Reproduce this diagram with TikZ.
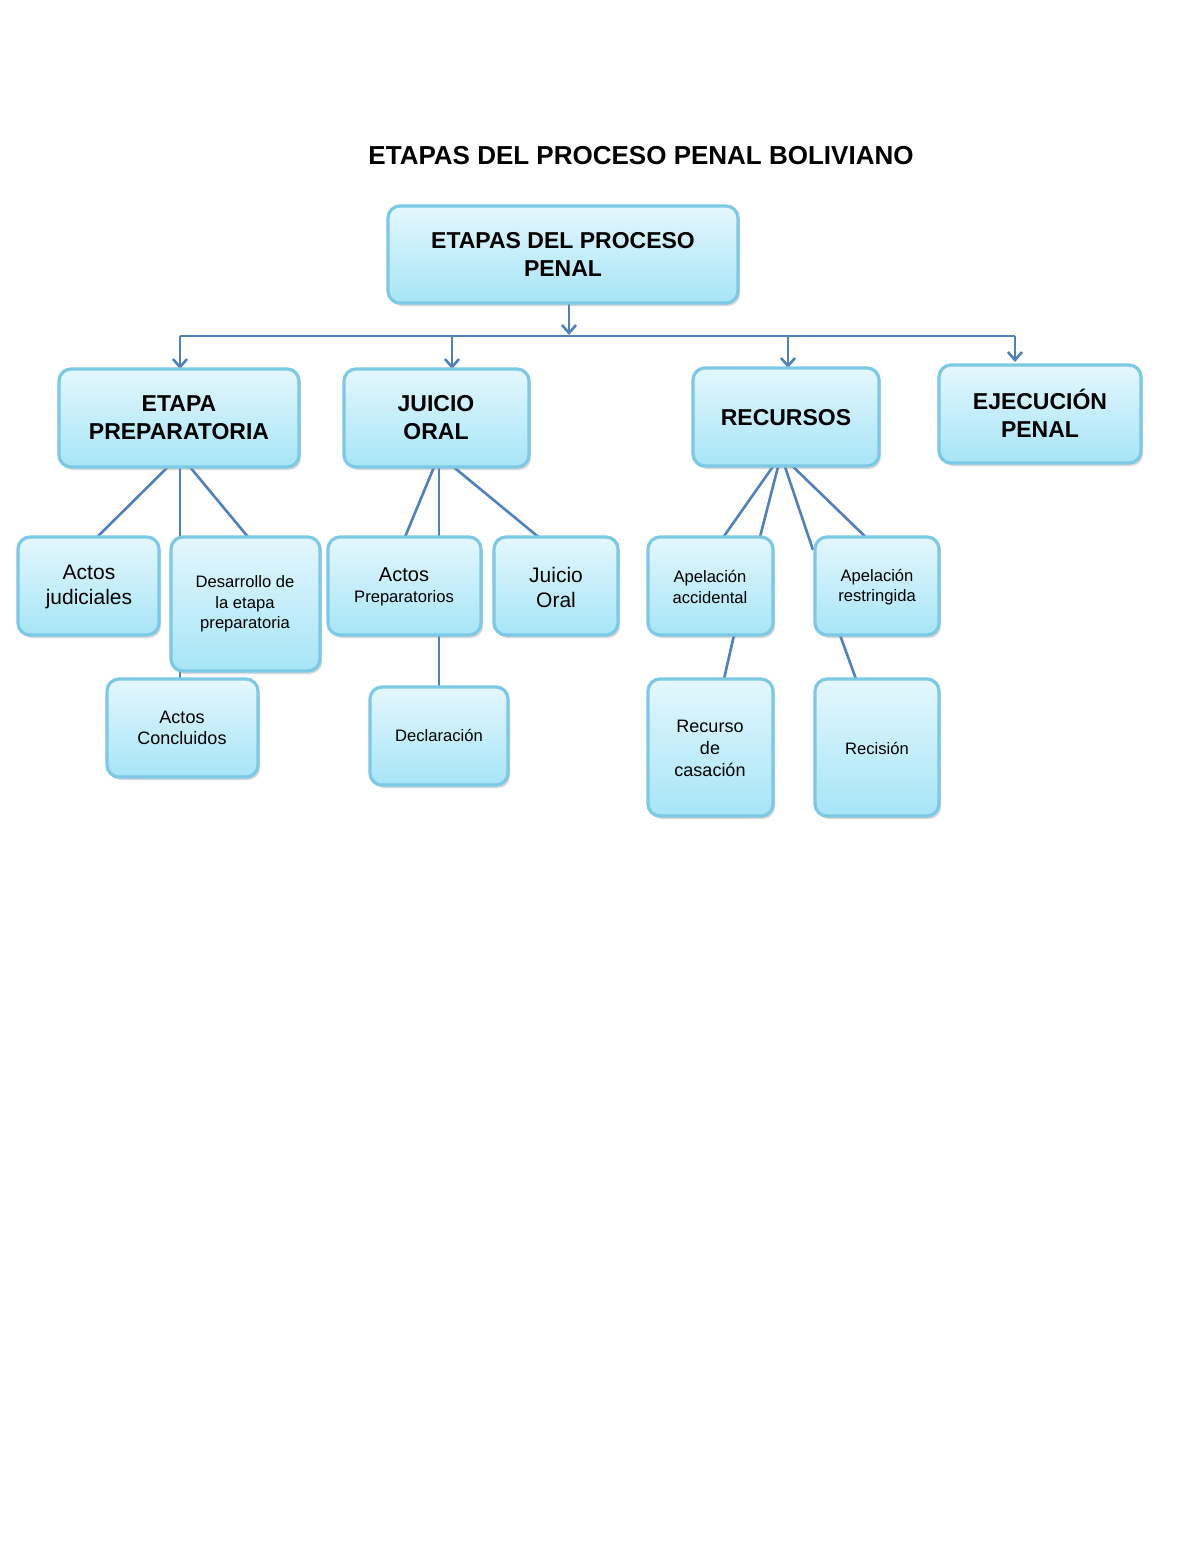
\documentclass[tikz,border=0pt]{standalone}
\usepackage{fontspec}
\setmainfont{Liberation Sans}
\usetikzlibrary{arrows.meta,shadows}
\definecolor{ln}{HTML}{4F81BD}
\definecolor{bd}{HTML}{7CC9E6}
\definecolor{tp}{HTML}{E4F7FD}
\definecolor{bt}{HTML}{A6E5F7}
\tikzset{
 bx/.style={draw=bd,line width=1.6pt,rounded corners=6pt,top color=tp,bottom color=bt,drop shadow={shadow xshift=1pt,shadow yshift=-1.5pt,opacity=0.3}},
 cn/.style={ln,line width=1.3pt},
 ar/.style={cn,-{Straight Barb[length=4pt,width=7pt]}}
}
\newcommand{\bxn}[6]{\path[bx] (#1,#2) rectangle (#3,#4);
 \node[align=center,font=#6] (#5) at ({(#1+#3)/2},{(#2+#4)/2}) {}; }
\begin{document}
\begin{tikzpicture}[x=0.5pt,y=-0.5pt]
\useasboundingbox[fill=white] (0,0) rectangle (1200,1553);
\node[font=\bfseries\fontsize{13}{15}\selectfont] (title) at (641,156) {ETAPAS DEL PROCESO PENAL BOLIVIANO};
% connectors
\coordinate (r) at (569,303); \coordinate (rj) at (569,335);
\draw[ar] (r) -- (rj);
\coordinate (h1) at (180,336); \coordinate (h2) at (1015,336);
\draw[cn] (h1) -- (h2);
\coordinate (t1) at (180,369); \coordinate (t2) at (452,369); \coordinate (t3) at (788,368); \coordinate (t4) at (1015,362);
\coordinate (s2) at (452,336); \coordinate (s3) at (788,336);
\draw[ar] (h1) -- (t1); \draw[ar] (s2) -- (t2); \draw[ar] (s3) -- (t3); \draw[ar] (h2) -- (t4);
\coordinate (ep) at (180,455); \coordinate (jo) at (439,455); \coordinate (rc) at (781,455);
\coordinate (a1) at (85,549); \coordinate (a2) at (258,549); \coordinate (a3) at (180,679);
\draw[ar] (ep) -- (a1); \draw[ar] (ep) -- (a2); \draw[cn] (ep) -- (a3);
\coordinate (b1) at (400,549); \coordinate (b2) at (553,549); \coordinate (b3) at (439,687);
\draw[ar] (jo) -- (b1); \draw[ar] (jo) -- (b2); \draw[cn] (jo) -- (b3);
\coordinate (c1) at (715,549); \coordinate (c2) at (878,549); \coordinate (c3) at (760,537); \coordinate (c4) at (813,550);
\draw[ar] (rc) -- (c1); \draw[ar] (rc) -- (c2); \draw[cn] (rc) -- (c3); \draw[cn] (rc) -- (c4);
\coordinate (d1) at (734,635); \coordinate (d2) at (724,679); \coordinate (e1) at (840,635); \coordinate (e2) at (856,679);
\draw[cn] (d1) -- (d2); \draw[cn] (e1) -- (e2);
% boxes
\def\B{\bfseries\fontsize{11.5}{14}\selectfont}
\def\M{\fontsize{10.5}{12.5}\selectfont}
\def\S{\fontsize{8.3}{10.3}\selectfont}
\path[bx] (388,206) rectangle (738,303); \node[align=center,font=\B] (root) at (563,254) {ETAPAS DEL PROCESO\\PENAL};
\path[bx] (59,369) rectangle (299,467); \node[align=center,font=\B] (prep) at (179,418) {ETAPA\\PREPARATORIA};
\path[bx] (344,369) rectangle (529,467); \node[align=center,font=\B] (jor) at (436,418) {JUICIO\\ORAL};
\path[bx] (693,368) rectangle (879,466); \node[align=center,font=\B] (rec) at (786,418) {RECURSOS};
\path[bx] (939,365) rectangle (1141,463); \node[align=center,font=\B] (eje) at (1040,413) {EJECUCIÓN\\PENAL};
\path[bx] (18,537) rectangle (159,635); \node[align=center,font=\M] (aj) at (89,587) {Actos\\judiciales};
\path[bx] (171,537) rectangle (320,671); \node[align=center,font=\S] (des) at (245,604) {Desarrollo de\\la etapa\\preparatoria};
\path[bx] (107,679) rectangle (258,777); \node[align=center,font=\S\fontsize{9}{10.5}\selectfont] (ac) at (182,728) {Actos\\Concluidos};
\path[bx] (328,537) rectangle (481,635); \node[align=center,font=\S] (ap) at (404,587) {{\fontsize{10}{11}\selectfont Actos}\\Preparatorios};
\path[bx] (494,537) rectangle (618,635); \node[align=center,font=\M] (jo2) at (556,587) {Juicio\\Oral};
\path[bx] (370,687) rectangle (508,785); \node[align=center,font=\S] (dec) at (439,735) {Declaración};
\path[bx] (648,537) rectangle (773,635); \node[align=center,font=\S] (apa) at (710,587) {Apelación\\accidental};
\path[bx] (815,537) rectangle (939,635); \node[align=center,font=\S] (apr) at (877,587) {Apelación\\restringida};
\path[bx] (648,679) rectangle (773,816); \node[align=center,font=\S\fontsize{9}{11}\selectfont] (cas) at (710,748) {Recurso\\de\\casación};
\path[bx] (815,679) rectangle (939,816); \node[align=center,font=\S] (resc) at (877,748) {Recisión};
\end{tikzpicture}
\end{document}
